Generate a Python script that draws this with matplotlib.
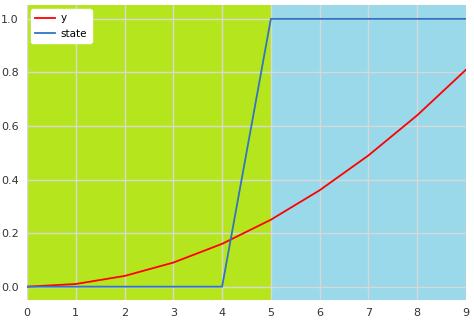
import matplotlib
matplotlib.use("Agg")
import matplotlib.pyplot as plt
import numpy as np

x = [0, 1, 2, 3, 4, 5, 6, 7, 8, 9]
y = [0.0, 0.01, 0.04, 0.09, 0.16, 0.25, 0.36, 0.49, 0.64, 0.81]
state = [0, 0, 0, 0, 0, 1, 1, 1, 1, 1]

fig = plt.figure(figsize=(4.74, 3.23), dpi=100)
ax = fig.add_axes([0.057, 0.071, 0.926, 0.912])

ax.axvspan(0, 5, color="#b5e61d", zorder=0.1, lw=0)
ax.axvspan(5, 9, color="#99d9ea", zorder=0.1, lw=0)

ax.plot(x, y, color="red", lw=1.3, label="y")
ax.plot(x, state, color="#3274c4", lw=1.3, label="state")

ax.set_xlim(0, 9)
ax.set_ylim(-0.05, 1.05)
ax.set_xticks(x)
ax.set_yticks([0.0, 0.2, 0.4, 0.6, 0.8, 1.0])
ax.grid(True, color="#d8d8d8", lw=1.0, zorder=0.5)
ax.set_axisbelow(True)
for s in ax.spines.values():
    s.set_visible(False)
ax.tick_params(length=0, labelsize=8, colors="#333333", pad=6)

leg = ax.legend(loc="upper left", fontsize=7.5, frameon=True, framealpha=1.0,
                edgecolor="white", fancybox=True, handlelength=1.9,
                handletextpad=0.6, borderaxespad=0.35)

fig.savefig("out.png", dpi=100)
